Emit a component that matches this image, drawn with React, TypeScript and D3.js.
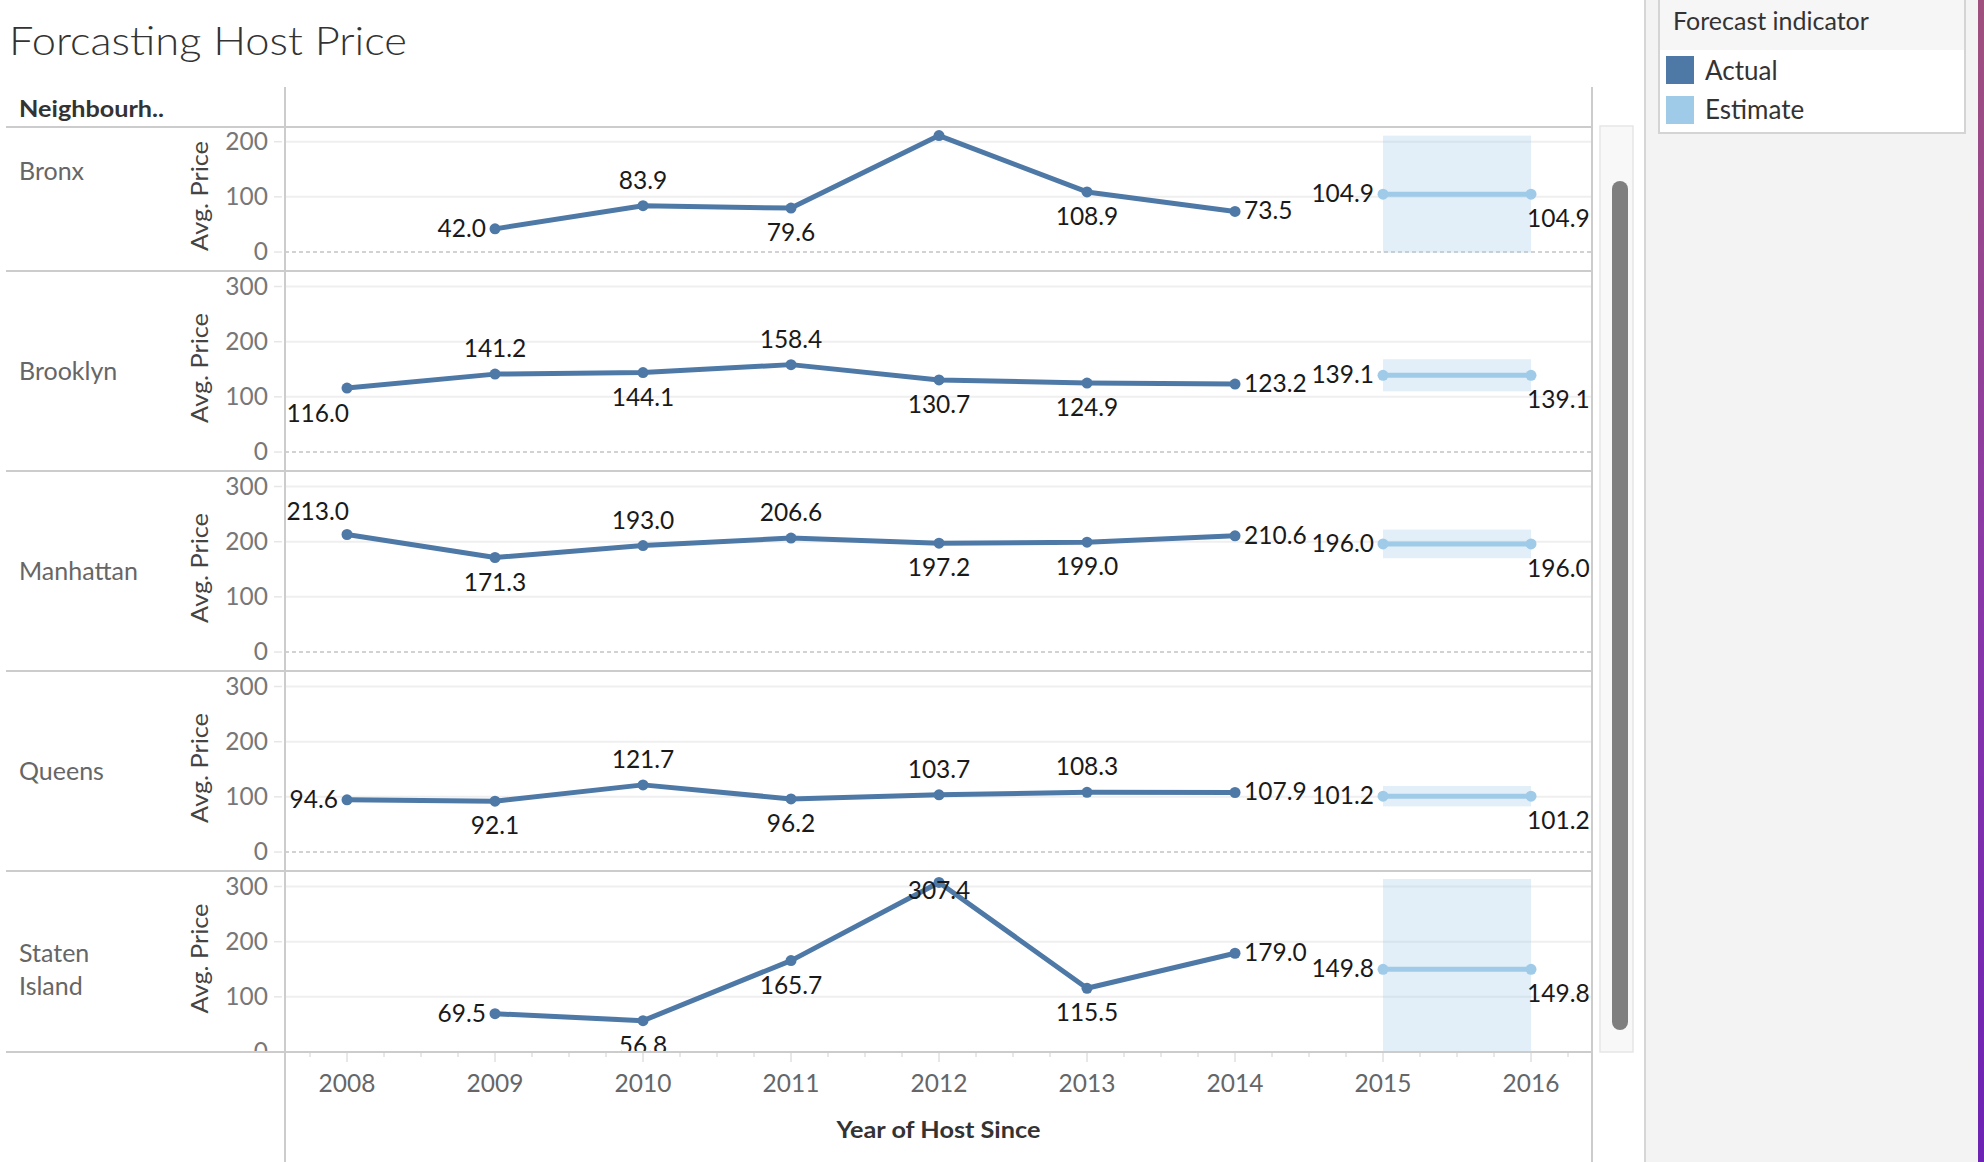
import React from 'react';
import * as d3 from 'd3';

// ---------- data ----------
const boroughs = ['Bronx', 'Brooklyn', 'Manhattan', 'Queens', 'Staten Island'];
const actualYears = [2008, 2009, 2010, 2011, 2012, 2013, 2014];
const forecastYears = [2015, 2016];
const axisYears = [2008, 2009, 2010, 2011, 2012, 2013, 2014, 2015, 2016];
const yTicks = [0, 100, 200, 300];

const bronxActual = [null, 42.0, 83.9, 79.6, 211.0, 108.9, 73.5];
const brooklynActual = [116.0, 141.2, 144.1, 158.4, 130.7, 124.9, 123.2];
const manhattanActual = [213.0, 171.3, 193.0, 206.6, 197.2, 199.0, 210.6];
const queensActual = [94.6, 92.1, 121.7, 96.2, 103.7, 108.3, 107.9];
const statenActual = [null, 69.5, 56.8, 165.7, 307.4, 115.5, 179.0];

const forecastValue = [104.9, 139.1, 196.0, 101.2, 149.8];
const forecastLow = [-1.1, 110.0, 170.0, 82.7, -14.0];
const forecastHigh = [210.9, 168.2, 222.0, 119.7, 313.6];

const actualSeries = [bronxActual, brooklynActual, manhattanActual, queensActual, statenActual];

// label placement (layout config, not data)
const actualLabelPlacement: string[][] = [
  ['none', 'left', 'above', 'below', 'none', 'below', 'right'],
  ['belowLeft', 'above', 'below', 'above', 'below', 'below', 'right'],
  ['aboveLeft', 'below', 'above', 'above', 'below', 'below', 'right'],
  ['left', 'below', 'above', 'below', 'above', 'above', 'right'],
  ['none', 'left', 'below', 'below', 'on', 'below', 'right'],
];
const forecastLabelPlacement = ['left', 'belowRight'];

// ---------- layout ----------
const W = 1984;
const H = 1162;
const PLOT_L = 285;
const PLOT_R = 1592;
const PANE_TOP = 127;
const PANE_BOTTOM = 1052;
const ROW_H = 200;
const SCROLL = 56;
const FONT = 'Lato, "Open Sans", "Noto Sans", sans-serif';
const ACTUAL = '#4e79a7';
const ESTIMATE = '#a0cbe8';
const LABEL_FS = 24.5;

const rowTop = (i: number) => PANE_TOP - SCROLL + i * ROW_H;

const x = d3.scaleLinear().domain([2007.581, 2016.412]).range([PLOT_L, PLOT_R]);
const makeY = (i: number) =>
  d3.scaleLinear().domain([-34.4, 328.1]).range([rowTop(i) + ROW_H, rowTop(i)]);

function labelAttrs(p: string, px: number, py: number) {
  switch (p) {
    case 'above': return { x: px, y: py - 17, anchor: 'middle' };
    case 'below': return { x: px, y: py + 33, anchor: 'middle' };
    case 'left': return { x: px - 9, y: py + 8, anchor: 'end' };
    case 'right': return { x: px + 9, y: py + 8, anchor: 'start' };
    case 'aboveLeft': return { x: px + 2, y: py - 15, anchor: 'end' };
    case 'belowLeft': return { x: px + 2, y: py + 34, anchor: 'end' };
    case 'belowRight': return { x: px - 4, y: py + 33, anchor: 'start' };
    case 'on': return { x: px, y: py + 17, anchor: 'middle' };
    default: return null;
  }
}

export default function App() {
  const minorTicks: number[] = [];
  for (let t = 2007.75; t <= 2016.26; t += 0.25) {
    if (Math.abs(t - Math.round(t)) > 0.01) minorTicks.push(t);
  }

  return (
    <div style={{ position: 'absolute', left: 0, top: 0, width: W, height: H, overflow: 'hidden' }}>
      <svg width={W} height={H} style={{ display: 'block', fontFamily: FONT }}>
        <defs>
          <clipPath id="paneClip">
            <rect x={0} y={PANE_TOP} width={PLOT_R + 1} height={PANE_BOTTOM - PANE_TOP} />
          </clipPath>
          <linearGradient id="purple" x1="0" y1="0" x2="0" y2="1">
            <stop offset="0%" stopColor="#a0507c" />
            <stop offset="50%" stopColor="#8a38a8" />
            <stop offset="100%" stopColor="#6c22b4" />
          </linearGradient>
        </defs>
        <rect x={0} y={0} width={W} height={H} fill="#ffffff" />

        {/* Title */}
        <text x={9} y={55} fontSize={40} fontWeight={300} fill="#333333" textLength={398} lengthAdjust="spacingAndGlyphs">
          Forcasting Host Price
        </text>

        {/* Column header */}
        <text x={19} y={117} fontSize={23} fontWeight={700} fill="#333333" textLength={145} lengthAdjust="spacingAndGlyphs">
          Neighbourh..
        </text>

        {/* Panes */}
        <g clipPath="url(#paneClip)">
          {boroughs.map((b, i) => {
            const y = makeY(i);
            const top = rowTop(i);
            const visTop = Math.max(top, PANE_TOP);
            const visBot = Math.min(top + ROW_H, PANE_BOTTOM);
            const series = actualSeries[i];
            const line = d3
              .line<number | null>()
              .defined((d) => d != null)
              .x((_, k) => x(actualYears[k]))
              .y((d) => y(d as number));
            const fLine = d3
              .line<number>()
              .x((d) => x(d))
              .y(() => y(forecastValue[i]));
            const nameLines = b === 'Staten Island' ? ['Staten', 'Island'] : [b];
            return (
              <g key={b}>
                {/* row label */}
                {nameLines.length === 1 ? (
                  <text x={19} y={top + 109} fontSize={25} fill="#666666">{b}</text>
                ) : (
                  nameLines.map((t, k) => (
                    <text key={t} x={19} y={top + 91 + k * 33} fontSize={25} fill="#666666">{t}</text>
                  ))
                )}
                {/* axis title */}
                <text
                  transform={`translate(${208},${(visTop + visBot) / 2 - 3}) rotate(-90)`}
                  textAnchor="middle"
                  fontSize={23}
                  fill="#444444"
                  textLength={110}
                  lengthAdjust="spacingAndGlyphs"
                >
                  Avg. Price
                </text>
                {/* ticks and gridlines */}
                {yTicks.map((t) => (
                  <g key={t}>
                    <text x={268} y={y(t) + 8} textAnchor="end" fontSize={LABEL_FS} fill="#777777">{t}</text>
                    <line x1={274} x2={282} y1={y(t)} y2={y(t)} stroke="#e6e6e6" strokeWidth={1.5} />
                    {t === 0 ? (
                      <line x1={PLOT_L} x2={PLOT_R} y1={y(t)} y2={y(t)} stroke="#c4c4c4" strokeWidth={1.5} strokeDasharray="4,3" />
                    ) : (
                      <line x1={PLOT_L} x2={PLOT_R} y1={y(t)} y2={y(t)} stroke="#efefef" strokeWidth={2} />
                    )}
                  </g>
                ))}
                {/* forecast band */}
                <rect
                  x={x(forecastYears[0])}
                  width={x(forecastYears[1]) - x(forecastYears[0])}
                  y={y(forecastHigh[i])}
                  height={y(forecastLow[i]) - y(forecastHigh[i])}
                  fill={ESTIMATE}
                  fillOpacity={0.3}
                />
                {/* actual line */}
                <path d={line(series) || ''} fill="none" stroke={ACTUAL} strokeWidth={5} strokeLinejoin="round" />
                {series.map((v, k) =>
                  v == null ? null : (
                    <circle key={k} cx={x(actualYears[k])} cy={y(v)} r={5.5} fill={ACTUAL} />
                  )
                )}
                {/* estimate line */}
                <path d={fLine(forecastYears) || ''} fill="none" stroke={ESTIMATE} strokeWidth={5} />
                {forecastYears.map((yr) => (
                  <circle key={yr} cx={x(yr)} cy={y(forecastValue[i])} r={5.5} fill={ESTIMATE} />
                ))}
                {/* labels */}
                {series.map((v, k) => {
                  if (v == null) return null;
                  const a = labelAttrs(actualLabelPlacement[i][k], x(actualYears[k]), y(v));
                  if (!a) return null;
                  return (
                    <text key={'l' + k} x={a.x} y={a.y} textAnchor={a.anchor as any} fontSize={LABEL_FS} fill="#1a1a1a">
                      {v.toFixed(1)}
                    </text>
                  );
                })}
                {forecastYears.map((yr, k) => {
                  const a = labelAttrs(forecastLabelPlacement[k], x(yr), y(forecastValue[i]));
                  if (!a) return null;
                  return (
                    <text key={'f' + yr} x={a.x} y={a.y} textAnchor={a.anchor as any} fontSize={LABEL_FS} fill="#1a1a1a">
                      {forecastValue[i].toFixed(1)}
                    </text>
                  );
                })}
              </g>
            );
          })}
        </g>

        {/* Grid frame lines */}
        <line x1={6} x2={PLOT_R} y1={PANE_TOP} y2={PANE_TOP} stroke="#cccccc" strokeWidth={2} />
        {boroughs.slice(0, 4).map((b, i) => (
          <line key={b} x1={6} x2={PLOT_R} y1={rowTop(i) + ROW_H} y2={rowTop(i) + ROW_H} stroke="#cccccc" strokeWidth={2} />
        ))}
        <line x1={6} x2={PLOT_R} y1={PANE_BOTTOM} y2={PANE_BOTTOM} stroke="#cccccc" strokeWidth={2} />
        <line x1={PLOT_L} x2={PLOT_L} y1={87} y2={H} stroke="#cccccc" strokeWidth={2} />
        <line x1={PLOT_R} x2={PLOT_R} y1={87} y2={H} stroke="#cccccc" strokeWidth={2} />

        {/* X axis */}
        {minorTicks.map((t) => (
          <line key={t} x1={x(t)} x2={x(t)} y1={PANE_BOTTOM + 1} y2={PANE_BOTTOM + 5} stroke="#e0e0e0" strokeWidth={1.5} />
        ))}
        {axisYears.map((yr) => (
          <g key={yr}>
            <line x1={x(yr)} x2={x(yr)} y1={PANE_BOTTOM + 1} y2={PANE_BOTTOM + 10} stroke="#e0e0e0" strokeWidth={1.5} />
            <text x={x(yr)} y={1092} textAnchor="middle" fontSize={LABEL_FS} fill="#666666">{yr}</text>
          </g>
        ))}
        <text
          x={(PLOT_L + PLOT_R) / 2}
          y={1138}
          textAnchor="middle"
          fontSize={23}
          fontWeight={700}
          fill="#333333"
          textLength={204}
          lengthAdjust="spacingAndGlyphs"
        >
          Year of Host Since
        </text>

        {/* Scrollbar */}
        <rect x={1600} y={126} width={33} height={PANE_BOTTOM - 126} fill="#f8f8f8" stroke="#e6e6e6" strokeWidth={1.5} />
        <rect x={1612} y={181} width={16} height={849} rx={8} fill="#7f7f7f" />

        {/* Right side panel */}
        <rect x={1645} y={0} width={W - 1645} height={H} fill="#f3f3f3" />
        <line x1={1645} x2={1645} y1={0} y2={H} stroke="#d6d6d6" strokeWidth={2} />
        <rect x={1978} y={0} width={6} height={H} fill="url(#purple)" />

        {/* Legend */}
        <rect x={1659} y={-2} width={306} height={135} fill="#ffffff" stroke="#d4d4d4" strokeWidth={2} />
        <rect x={1660} y={0} width={304} height={50} fill="#f6f6f6" />
        <text x={1673} y={30} fontSize={25} fill="#333333">Forecast indicator</text>
        <rect x={1666} y={56} width={28} height={28} fill={ACTUAL} />
        <text x={1705} y={80} fontSize={26} fill="#333333">Actual</text>
        <rect x={1666} y={96} width={28} height={28} fill={ESTIMATE} />
        <text x={1705} y={119} fontSize={26} fill="#333333">Estimate</text>
      </svg>
    </div>
  );
}
